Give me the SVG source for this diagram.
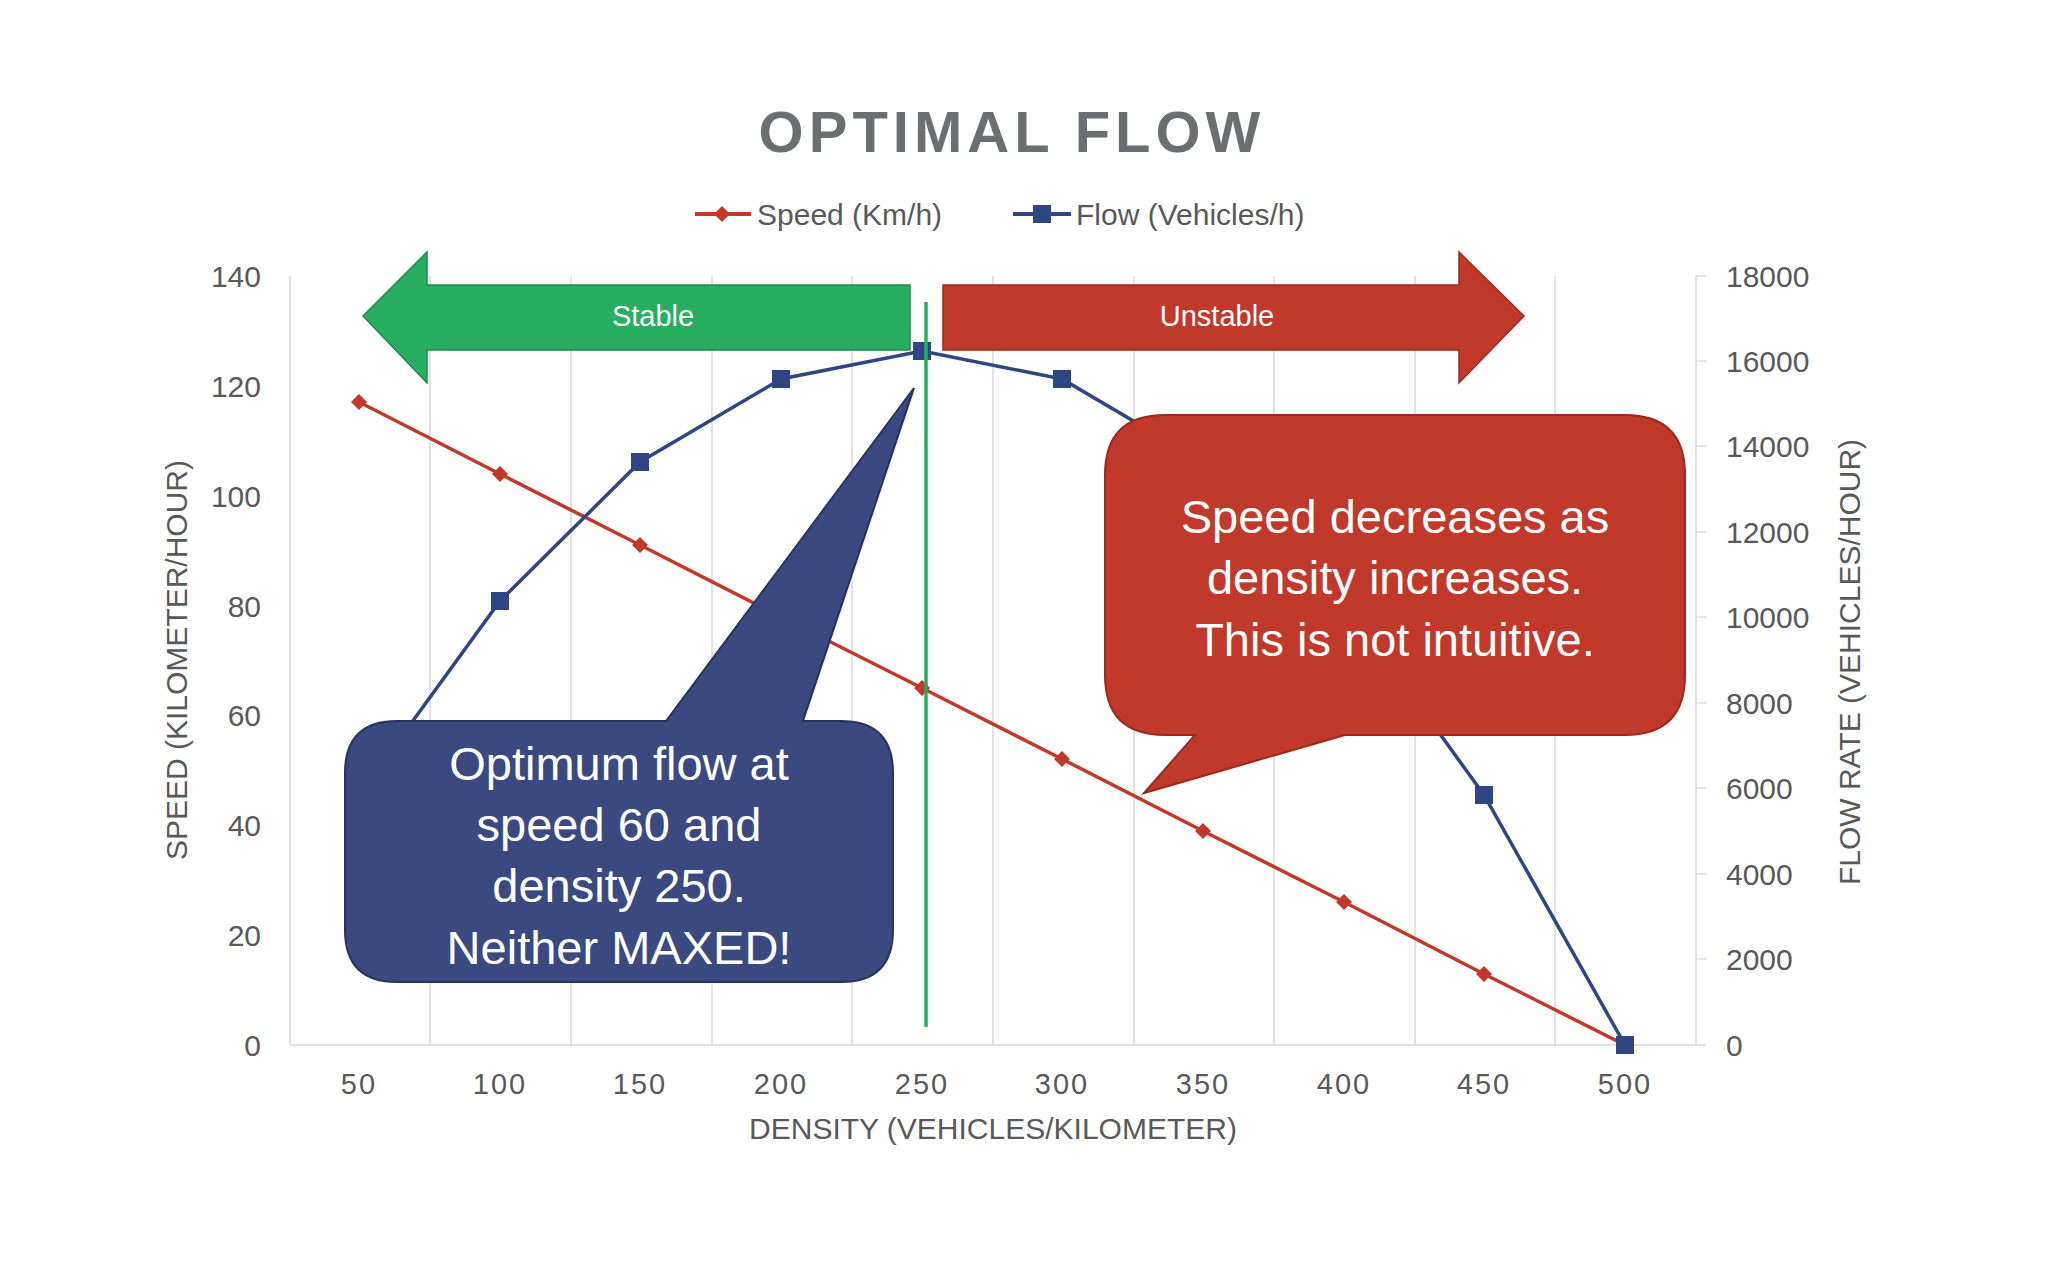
<svg xmlns="http://www.w3.org/2000/svg" width="2048" height="1280" viewBox="0 0 2048 1280">
<style>
.ax{font-family:"Liberation Sans",Arial,sans-serif;font-size:30px;fill:#595959}
.xl{font-family:"Liberation Sans",Arial,sans-serif;font-size:29px;fill:#595959;letter-spacing:2px;text-anchor:middle}
.grid{stroke:#d9d9d9;stroke-width:1.5}
.call{font-family:"Liberation Sans",Arial,sans-serif;font-size:47px;fill:#fff;text-anchor:middle}
.arr{font-family:"Liberation Sans",Arial,sans-serif;font-size:29px;fill:#fff;text-anchor:middle}
</style>
<defs>
<path id="dia" d="M0,-8 L8,0 L0,8 L-8,0Z" fill="#c0392b"/>
<rect id="sq" x="-9" y="-9" width="18" height="18" fill="#2f4683"/>
</defs>
<rect width="2048" height="1280" fill="#fff"/>
<text x="1012" y="152" text-anchor="middle" font-family="Liberation Sans,Arial,sans-serif" font-size="58" font-weight="bold" letter-spacing="5" fill="#6d6e71">OPTIMAL FLOW</text>
<g id="legend">
<line x1="695" y1="214" x2="751" y2="214" stroke="#c0392b" stroke-width="4"/><use href="#dia" x="722" y="214"/>
<text x="757" y="225" class="ax" font-size="32">Speed (Km/h)</text>
<line x1="1013" y1="214" x2="1071" y2="214" stroke="#2f4683" stroke-width="4"/><use href="#sq" x="1042" y="214"/>
<text x="1076" y="225" class="ax" font-size="32">Flow (Vehicles/h)</text>
</g>
<g id="grid">
<line class="grid" x1="290" y1="276" x2="290" y2="1045"/><line class="grid" x1="430" y1="276" x2="430" y2="1045"/><line class="grid" x1="571" y1="276" x2="571" y2="1045"/><line class="grid" x1="712" y1="276" x2="712" y2="1045"/><line class="grid" x1="852" y1="276" x2="852" y2="1045"/><line class="grid" x1="993" y1="276" x2="993" y2="1045"/><line class="grid" x1="1134" y1="276" x2="1134" y2="1045"/><line class="grid" x1="1274" y1="276" x2="1274" y2="1045"/><line class="grid" x1="1415" y1="276" x2="1415" y2="1045"/><line class="grid" x1="1555" y1="276" x2="1555" y2="1045"/><line class="grid" x1="1696" y1="276" x2="1696" y2="1045"/>
<line class="grid" x1="290" y1="1045" x2="1696" y2="1045"/>
<g class="grid"><line x1="1696" y1="276" x2="1706" y2="276"/><line x1="1696" y1="361" x2="1706" y2="361"/><line x1="1696" y1="446" x2="1706" y2="446"/><line x1="1696" y1="532" x2="1706" y2="532"/><line x1="1696" y1="617" x2="1706" y2="617"/><line x1="1696" y1="703" x2="1706" y2="703"/><line x1="1696" y1="788" x2="1706" y2="788"/><line x1="1696" y1="874" x2="1706" y2="874"/><line x1="1696" y1="959" x2="1706" y2="959"/><line x1="1696" y1="1045" x2="1706" y2="1045"/></g>
</g>
<g id="yleft" class="ax" text-anchor="end">
<text x="261" y="1056">0</text><text x="261" y="946">20</text><text x="261" y="836">40</text><text x="261" y="726">60</text><text x="261" y="617">80</text><text x="261" y="507">100</text><text x="261" y="397">120</text><text x="261" y="287">140</text>
</g>
<g id="yright" class="ax">
<text x="1726" y="1056">0</text><text x="1726" y="970">2000</text><text x="1726" y="885">4000</text><text x="1726" y="799">6000</text><text x="1726" y="714">8000</text><text x="1726" y="628">10000</text><text x="1726" y="543">12000</text><text x="1726" y="457">14000</text><text x="1726" y="372">16000</text><text x="1726" y="287">18000</text>
</g>
<g id="xlabels">
<text class="xl" x="359" y="1094">50</text><text class="xl" x="500" y="1094">100</text><text class="xl" x="640" y="1094">150</text><text class="xl" x="781" y="1094">200</text><text class="xl" x="922" y="1094">250</text><text class="xl" x="1062" y="1094">300</text><text class="xl" x="1203" y="1094">350</text><text class="xl" x="1344" y="1094">400</text><text class="xl" x="1484" y="1094">450</text><text class="xl" x="1625" y="1094">500</text>
</g>
<text class="ax" x="993" y="1139" text-anchor="middle" font-size="31">DENSITY (VEHICLES/KILOMETER)</text>
<text class="ax" transform="translate(187,660) rotate(-90)" text-anchor="middle" font-size="31">SPEED (KILOMETER/HOUR)</text>
<text class="ax" transform="translate(1860,662) rotate(-90)" text-anchor="middle" font-size="31">FLOW RATE (VEHICLES/HOUR)</text>
<g id="connectors">
<polyline fill="none" stroke="#c0392b" stroke-width="3.5" points="359,402 500,474 640,545 781,617 922,688 1062,759 1203,831 1344,902 1484,974 1625,1045"/>
<polyline fill="none" stroke="#2f4683" stroke-width="3.5" points="359,795 500,601 640,462 781,379 922,351 1062,379 1203,462 1344,601 1484,795 1625,1045"/>
<g><use href="#dia" x="359" y="402"/><use href="#dia" x="500" y="474"/><use href="#dia" x="640" y="545"/><use href="#dia" x="781" y="617"/><use href="#dia" x="922" y="688"/><use href="#dia" x="1062" y="759"/><use href="#dia" x="1203" y="831"/><use href="#dia" x="1344" y="902"/><use href="#dia" x="1484" y="974"/><use href="#dia" x="1625" y="1045"/></g>
<g><use href="#sq" x="359" y="795"/><use href="#sq" x="500" y="601"/><use href="#sq" x="640" y="462"/><use href="#sq" x="781" y="379"/><use href="#sq" x="922" y="351"/><use href="#sq" x="1062" y="379"/><use href="#sq" x="1203" y="462"/><use href="#sq" x="1344" y="601"/><use href="#sq" x="1484" y="795"/><use href="#sq" x="1625" y="1045"/></g>
<line x1="926" y1="302" x2="926" y2="1027" stroke="#27ae60" stroke-width="3.5"/>
</g>
<g id="stable">
<path d="M363,316 L427,252 L427,285 L910,285 L910,350 L427,350 L427,383 Z" fill="#27ae60" stroke="#1e8a4a" stroke-width="1.5"/>
<text class="arr" x="653" y="326">Stable</text>
</g>
<g id="unstable">
<path d="M943,285 L1459,285 L1459,252 L1524,316 L1459,383 L1459,350 L943,350 Z" fill="#c0392b" stroke="#9b2a1e" stroke-width="1.5"/>
<text class="arr" x="1217" y="326">Unstable</text>
</g>
<g id="callout-blue">
<path d="M397,721 L666,721 L914,388 L803,721 L841,721 Q893,721 893,773 L893,930 Q893,982 841,982 L397,982 Q345,982 345,930 L345,773 Q345,721 397,721 Z" fill="#3a4a80" stroke="#27345e" stroke-width="2"/>
<text class="call" x="619" y="780">Optimum flow at</text>
<text class="call" x="619" y="841">speed 60 and</text>
<text class="call" x="619" y="902">density 250.</text>
<text class="call" x="619" y="964">Neither MAXED!</text>
</g>
<g id="callout-red">
<path d="M1165,415 L1625,415 Q1685,415 1685,475 L1685,675 Q1685,735 1625,735 L1345,735 L1144,793 L1195,735 L1165,735 Q1105,735 1105,675 L1105,475 Q1105,415 1165,415 Z" fill="#c0392b" stroke="#9b2a1e" stroke-width="2"/>
<text class="call" x="1395" y="533">Speed decreases as</text>
<text class="call" x="1395" y="594">density increases.</text>
<text class="call" x="1395" y="656">This is not intuitive.</text>
</g>
</svg>
